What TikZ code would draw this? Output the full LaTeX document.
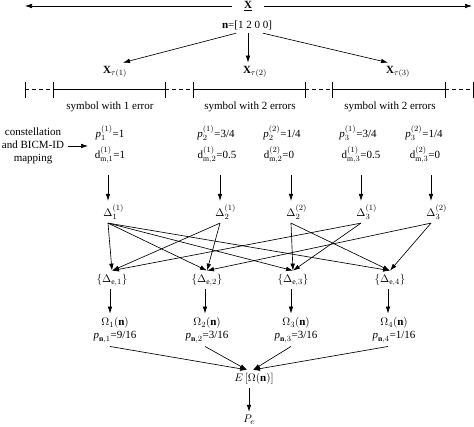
\documentclass[tikz,border=0pt]{standalone}
\usepackage{amsmath}
\usepackage{fontspec}
\setmainfont{Liberation Serif}
\usepackage{tikz}
\usetikzlibrary{arrows.meta}

% Delta with scripts that do not move the node centre
\newcommand{\Dlt}[2]{$\Delta\rlap{$\vphantom{\Delta}_{#1}^{(#2)}$}$}

\begin{document}
\begin{tikzpicture}[x=1pt,y=-1pt,font=\fontsize{11}{13}\selectfont,line width=0.65pt,
  arr/.style={-{Latex[length=7pt,width=4.6pt]}}]
\useasboundingbox (0,0) rectangle (474,427);

% top: the whole frame
\node[inner xsep=12pt] (Xt) at (248,6) {\underline{\textbf{X}}};
\coordinate (xl) at (25,6);
\coordinate (xr) at (472,6);
\draw[arr] (Xt) -- (xl);
\draw[arr] (Xt) -- (xr);

\node (nv) at (247,25) {\textbf{n}=[1 2 0 0]};
\node (Xt1) at (115,72) {\textbf{X}$_{\tau(1)}$};
\node (Xt2) at (255,72) {\textbf{X}$_{\tau(2)}$};
\node (Xt3) at (398,72) {\textbf{X}$_{\tau(3)}$};
\draw[arr] ([xshift=-11pt]nv.south) -- ([xshift=8pt]Xt1.north);
\draw[arr] ([xshift=1pt]nv.south) -- ([xshift=1pt]nv.south |- Xt2.north);
\draw[arr] ([xshift=16pt]nv.south) -- ([xshift=-10pt]Xt3.north);

% symbol ruler
\draw (53,89) -- (165,89) (193,89) -- (305,89) (332,89) -- (445,89);
\draw[dash pattern=on 4pt off 3pt] (25,89) -- (53,89) (165,89) -- (193,89)
  (305,89) -- (332,89) (445,89) -- (473,89);
\foreach \x in {25,53,165,193,305,332,445,473}
  \draw (\x,82) -- (\x,98);

\node (s1) at (110,107) {symbol with 1 error};
\node (s2) at (250,107) {symbol with 2 errors};
\node (s3) at (390,107) {symbol with 2 errors};

\node[align=center] (map) at (33,146) {constellation\\and BICM-ID\\mapping};
\coordinate (mapin) at (88,146);
\draw[arr] (map.east) -- (mapin);

\node (p11) at (110,133) {$\textit{p}_1^{(1)}$=1};
\node (p21) at (216,133) {$\textit{p}_2^{(1)}$=3/4};
\node (p22) at (282,133) {$\textit{p}_2^{(2)}$=1/4};
\node (p31) at (358,133) {$\textit{p}_3^{(1)}$=3/4};
\node (p32) at (424,133) {$\textit{p}_3^{(2)}$=1/4};

\node (d11) at (110,155) {d$_{\mathrm{m},1}^{(1)}$=1};
\node (d21) at (217,155) {d$_{\mathrm{m},2}^{(1)}$=0.5};
\node (d22) at (279,155) {d$_{\mathrm{m},2}^{(2)}$=0};
\node (d31) at (361,155) {d$_{\mathrm{m},3}^{(1)}$=0.5};
\node (d32) at (425,155) {d$_{\mathrm{m},3}^{(2)}$=0};

% error terms
\node (D11) at (108,212) {\Dlt{1}{1}};
\node (D21) at (220,212) {\Dlt{2}{1}};
\node (D22) at (291,212) {\Dlt{2}{2}};
\node (D31) at (361,212) {\Dlt{3}{1}};
\node (D32) at (431,212) {\Dlt{3}{2}};
\foreach \a/\b in {d11/D11,d21/D21,d22/D22,d31/D31,d32/D32}
  \draw[arr,shorten <=8pt] (\b.north |- \a.south) -- (\b.north);

\node (e1) at (112,280) {$\{\Delta_{\mathrm{e},1}\}$};
\node (e2) at (207,280) {$\{\Delta_{\mathrm{e},2}\}$};
\node (e3) at (293,280) {$\{\Delta_{\mathrm{e},3}\}$};
\node (e4) at (390,280) {$\{\Delta_{\mathrm{e},4}\}$};
\foreach \a/\b in {D11/e1,D11/e2,D11/e3,D11/e4,D21/e1,D21/e2,D22/e3,D22/e4,
  D31/e1,D31/e3,D32/e2,D32/e4}
  \draw[arr] (\a.south) -- (\b.north);

% error events
\node[align=center] (O1) at (115,330) {$\Omega_1(\mathbf{n})$\\$\textit{p}_{\mathbf{n},1}$=9/16};
\node[align=center] (O2) at (207,330) {$\Omega_2(\mathbf{n})$\\$\textit{p}_{\mathbf{n},2}$=3/16};
\node[align=center] (O3) at (296,330) {$\Omega_3(\mathbf{n})$\\$\textit{p}_{\mathbf{n},3}$=3/16};
\node[align=center] (O4) at (394,330) {$\Omega_4(\mathbf{n})$\\$\textit{p}_{\mathbf{n},4}$=1/16};
\foreach \k in {1,...,4}
  \draw[arr] ([xshift=-2pt]e\k.south) -- ([xshift=-2pt]e\k.south |- O\k.north);

\node (E) at (254,379) {$E\,[\Omega(\mathbf{n})]$};
\node (Pe) at (249,420) {$P_e$};
\draw[arr] ([xshift=-2pt]e1.south |- O1.south) -- ([xshift=-2pt]E.north -| Pe);
\draw[arr] ([xshift=-2pt]e2.south |- O2.south) -- ([xshift=-2pt]E.north -| Pe);
\draw[arr] ([xshift=-2pt]e3.south |- O3.south) -- ([xshift=4pt]E.north -| Pe);
\draw[arr] ([xshift=-2pt]e4.south |- O4.south) -- ([xshift=4pt]E.north -| Pe);
\draw[arr] (E.south -| Pe) -- (Pe.north);
\end{tikzpicture}
\end{document}
